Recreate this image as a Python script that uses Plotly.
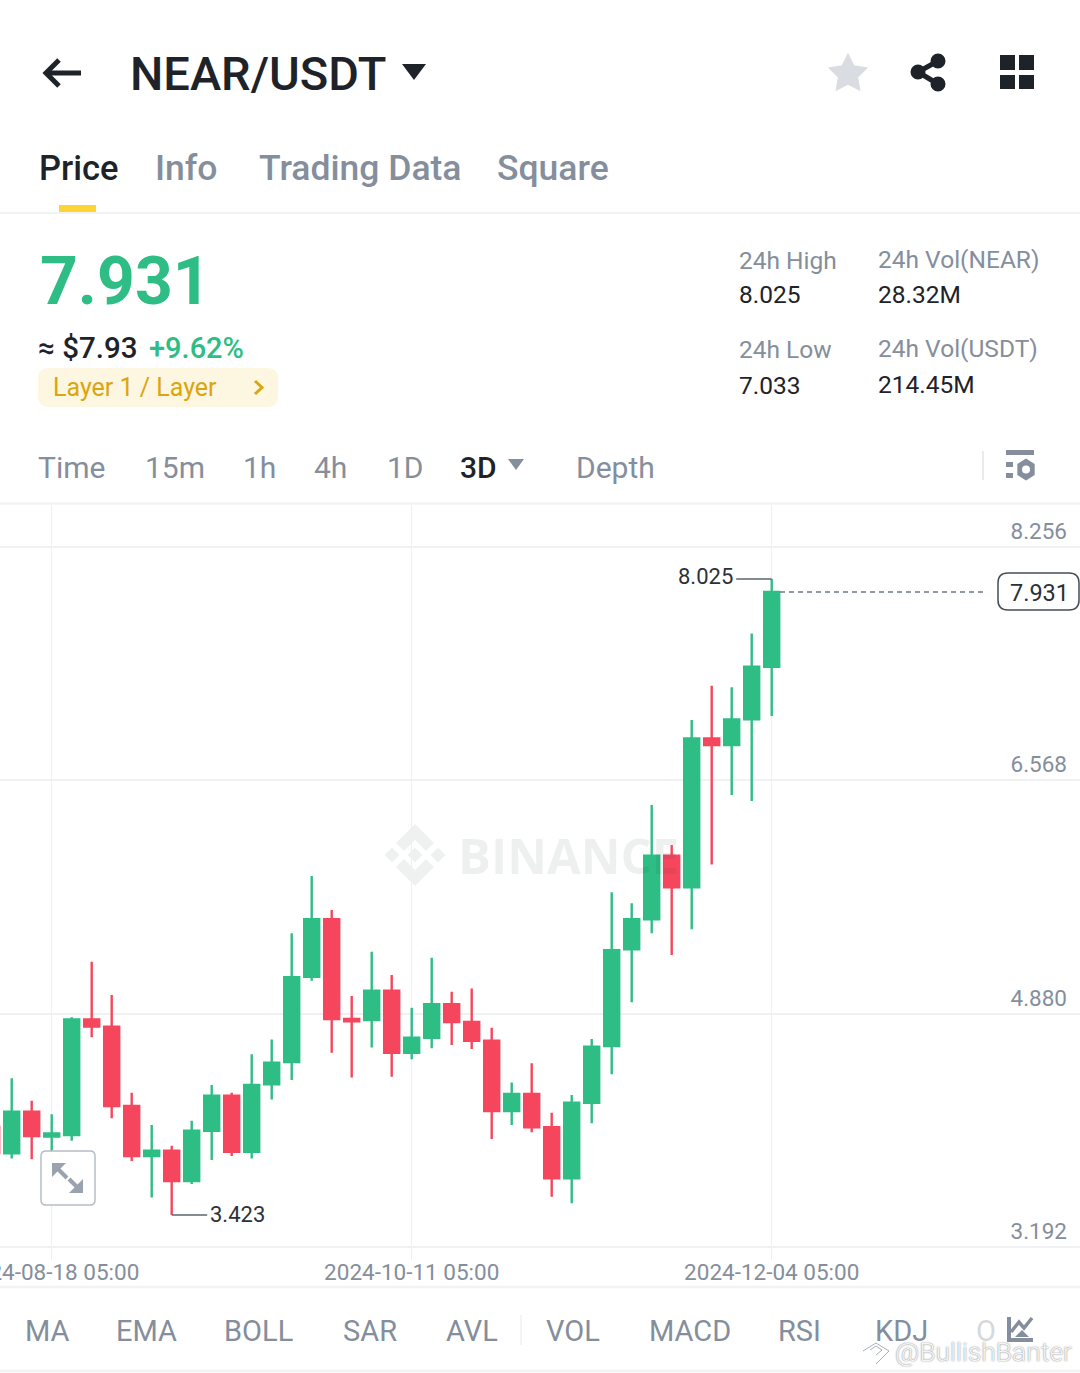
import math
import pandas as pd
import plotly.graph_objects as go

# ---------- chart data ----------
dates = pd.date_range("2024-08-09 05:00", periods=40, freq="3D")
opens = [4.060, 3.870, 4.171, 3.991, 4.002, 4.839, 4.786, 4.212, 3.850, 3.888,
         3.669, 4.033, 4.286, 3.881, 4.369, 4.530, 5.147, 5.563, 4.841, 4.834,
         5.046, 4.597, 4.706, 4.948, 4.820, 4.684, 4.176, 4.299, 4.058, 3.689,
         4.236, 4.646, 5.346, 5.563, 6.023, 5.794, 6.872, 6.823, 7.009, 7.390]
highs = [4.125, 4.412, 4.250, 4.152, 4.854, 5.256, 5.015, 4.308, 4.074, 3.925,
         4.106, 4.364, 4.308, 4.586, 4.694, 5.461, 5.876, 5.630, 5.008, 5.328,
         5.160, 4.923, 5.285, 5.039, 5.063, 4.778, 4.383, 4.521, 4.163, 4.291,
         4.697, 5.758, 5.678, 6.389, 6.100, 7.004, 7.252, 7.241, 7.631, 8.025]
lows = [3.836, 3.833, 3.826, 3.879, 3.961, 4.709, 4.123, 3.814, 3.551, 3.423,
        3.648, 3.821, 3.850, 3.833, 4.260, 4.400, 5.118, 4.597, 4.419, 4.636,
        4.424, 4.550, 4.629, 4.653, 4.624, 3.973, 4.074, 4.022, 3.556, 3.508,
        4.087, 4.441, 4.962, 5.461, 5.304, 5.490, 5.960, 6.462, 6.418, 7.033]
closes = [3.872, 4.171, 3.995, 4.013, 4.839, 4.786, 4.212, 3.850, 3.888, 3.669,
          4.033, 4.286, 3.881, 4.364, 4.525, 5.143, 5.563, 4.841, 4.825, 5.046,
          4.597, 4.706, 4.948, 4.820, 4.684, 4.176, 4.299, 4.058, 3.689, 4.236,
          4.641, 5.340, 5.563, 6.023, 5.794, 6.872, 6.823, 7.009, 7.390, 7.931]
price_ticks = [8.256, 6.568, 4.880, 3.192]
date_ticks = ["2024-08-18 05:00", "2024-10-11 05:00", "2024-12-04 05:00"]
last_price = 7.931
top_value, low_value = 8.025, 3.423
top_date, low_date = "2024-12-04 05:00", "2024-09-05 05:00"

W, H = 1080, 1373
FONT = "Roboto"
DARK = "#1e2329"
GRAY = "#848e9c"
GREEN = "#2ebd85"
RED = "#f6465d"
GRID = "#f0f1f2"

shapes, annots = [], []
def X(x): return x / W
def Y(y): return 1 - y / H

def text(x, y, s, size, color=GRAY, anchor="left", weight=400, family=FONT, **font_kw):
    if anchor == "left":
        x -= 1.5
    annots.append(dict(x=X(x), y=Y(y), xref="paper", yref="paper", text=s, showarrow=False,
                       xanchor=anchor, yanchor="middle", borderpad=0,
                       font=dict(size=size, color=color, family=family, weight=weight, **font_kw)))

def rect(x0, y0, x1, y1, color, layer="above"):
    shapes.append(dict(type="rect", xref="paper", yref="paper", x0=X(x0), x1=X(x1), y0=Y(y0), y1=Y(y1),
                       fillcolor=color, line=dict(width=0), layer=layer))

def line(x0, y0, x1, y1, color, width=2, dash="solid", layer="above"):
    shapes.append(dict(type="line", xref="paper", yref="paper", x0=X(x0), x1=X(x1), y0=Y(y0), y1=Y(y1),
                       line=dict(color=color, width=width, dash=dash), layer=layer))

def poly(pts, color, layer="above", stroke=None, width=0, close=True):
    d = "M " + " L ".join(f"{X(a):.5f},{Y(b):.5f}" for a, b in pts) + (" Z" if close else "")
    shapes.append(dict(type="path", xref="paper", yref="paper", path=d, fillcolor=color if close else None,
                       line=dict(color=stroke or color, width=width), layer=layer))

def circle(cx, cy, r, color):
    shapes.append(dict(type="circle", xref="paper", yref="paper", x0=X(cx - r), x1=X(cx + r),
                       y0=Y(cy - r), y1=Y(cy + r), fillcolor=color, line=dict(width=0)))

def round_rect(x0, y0, x1, y1, r, fill, stroke=None, width=0, layer="above"):
    p = lambda a, b: f"{X(a):.5f},{Y(b):.5f}"
    d = (f"M {p(x0 + r, y0)} L {p(x1 - r, y0)} Q {p(x1, y0)} {p(x1, y0 + r)} L {p(x1, y1 - r)} "
         f"Q {p(x1, y1)} {p(x1 - r, y1)} L {p(x0 + r, y1)} Q {p(x0, y1)} {p(x0, y1 - r)} "
         f"L {p(x0, y0 + r)} Q {p(x0, y0)} {p(x0 + r, y0)} Z")
    shapes.append(dict(type="path", xref="paper", yref="paper", path=d, fillcolor=fill,
                       line=dict(color=stroke or fill, width=width), layer=layer))

# ---------- header ----------
poly([(81, 73), (47, 73)], DARK, stroke=DARK, width=5, close=False)
poly([(59, 60), (46, 73), (59, 86)], DARK, stroke=DARK, width=5, close=False)
text(130, 74, "NEAR/USDT", 47, DARK, weight=500)
poly([(402, 64), (426, 64), (414, 80)], DARK)
star = []
for i in range(10):
    r = 19 if i % 2 == 0 else 9.5
    a = -math.pi / 2 + i * math.pi / 5
    star.append((848 + r * math.cos(a), 74 + r * math.sin(a)))
poly(star, "#d9dce1", stroke="#d9dce1", width=2)
line(938, 61, 918, 72, DARK, 5)
line(918, 72, 938, 84, DARK, 5)
circle(938, 61, 7.5, DARK); circle(938, 84, 7.5, DARK); circle(918, 72, 7.5, DARK)
rect(1000, 55, 1015, 70, DARK); rect(1019, 55, 1034, 70, DARK)
rect(1000, 75, 1015, 89, DARK); rect(1019, 75, 1034, 89, DARK)

text(39, 168, "Price", 34.5, DARK, weight=500)
text(155, 168, "Info", 35.5, weight=500)
text(259, 168, "Trading Data", 35.5, weight=500)
text(497, 168, "Square", 35.5, weight=500)
rect(59, 205, 96, 212, "#fcd535")
line(0, 213, W, 213, "#f2f3f4", 2)

# ---------- price block ----------
text(40, 282, "7.931", 66, GREEN, weight=700)
text(38, 348, "≈ $7.93", 29.5, DARK, weight=500)
text(149, 348, "+9.62%", 29, GREEN, weight=500)
round_rect(38, 368, 278, 407, 11, "#fdf6e0")
text(53, 388, "Layer 1 / Layer", 25, "#dba50f")
poly([(255, 381), (262, 387.5), (255, 394)], "#dba50f", stroke="#dba50f", width=3, close=False)
text(739, 260, "24h High", 24.5)
text(739, 295, "8.025", 24.5, DARK)
text(878, 259, "24h Vol(NEAR)", 24.5)
text(878, 294, "28.32M", 24.5, DARK)
text(739, 350, "24h Low", 24.5)
text(739, 385, "7.033", 24.5, DARK)
text(878, 349, "24h Vol(USDT)", 24.5)
text(878, 384, "214.45M", 24.5, DARK)

# ---------- interval bar ----------
for x0, s in [(38, "Time"), (145, "15m"), (243, "1h"), (314, "4h"), (387, "1D"), (576, "Depth")]:
    text(x0, 468, s, 30)
text(460, 468, "3D", 30, DARK, weight=500)
poly([(508, 459), (524, 459), (516, 470)], GRAY)
line(983, 451, 983, 480, "#e8eaed", 2)
rect(1006, 450, 1034, 455, GRAY)
rect(1006, 462, 1013, 467, GRAY); rect(1006, 473, 1013, 478, GRAY)
hexa = [(1026 + 10 * math.cos(math.pi / 2 + i * math.pi / 3), 469.5 + 11 * math.sin(math.pi / 2 + i * math.pi / 3)) for i in range(6)]
poly(hexa, GRAY)
circle(1026, 469.5, 4, "white")
line(0, 503.5, W, 503.5, "#f2f3f4", 2.5)

# ---------- watermark ----------
cx, cy = 415, 855
wm = "#eff1f1"
def diamond(x, y, r):
    return [(x, y - r), (x + r, y), (x, y + r), (x - r, y)]
poly(diamond(cx, cy, 7.5), wm, "below")
poly(diamond(cx - 23, cy, 7.5), wm, "below")
poly(diamond(cx + 23, cy, 7.5), wm, "below")
poly([(cx, cy - 31), (cx + 19, cy - 12), (cx + 11, cy - 4), (cx, cy - 15), (cx - 11, cy - 4), (cx - 19, cy - 12)], wm, "below")
poly([(cx, cy + 31), (cx + 19, cy + 12), (cx + 11, cy + 4), (cx, cy + 15), (cx - 11, cy + 4), (cx - 19, cy + 12)], wm, "below")
text(458, 855, "BINANCE", 49, "rgba(30,50,50,0.075)", weight=700, family="Open Sans")

# ---------- chart furniture ----------
line(780, 592, 986, 592, "#707a8a", 1.5, dash="5px,4px")
round_rect(998, 573, 1079, 610, 10, "white", stroke="#474d57", width=1.5)
text(1039, 593, f"{last_price:.3f}", 23.5, "#2b3139", anchor="center")

annots.append(dict(x=top_date, y=top_value, xref="x", yref="y", ax=-37, ay=0, axref="pixel", ayref="pixel",
                   text="", showarrow=True, arrowhead=0, arrowwidth=1.5, arrowcolor="#5e6673"))
text(734, 577, f"{top_value:.3f}", 22, "#2b3139", anchor="right")
annots.append(dict(x=low_date, y=low_value, xref="x", yref="y", ax=37, ay=0, axref="pixel", ayref="pixel",
                   text="", showarrow=True, arrowhead=0, arrowwidth=1.5, arrowcolor="#5e6673"))
text(210, 1214, f"{low_value:.3f}", 22, "#2b3139")

# expand button
round_rect(41, 1151, 95, 1205, 5, "rgba(255,255,255,0.96)", stroke="#b7bdc6", width=1.5)
poly([(52, 1163), (66, 1163), (52, 1177)], "#9aa2ad")
poly([(83, 1193), (69, 1193), (83, 1179)], "#9aa2ad")
line(58, 1169, 67, 1178, "#9aa2ad", 4)
line(69, 1179, 77, 1187, "#9aa2ad", 4)

# ---------- bottom bar ----------
line(0, 1287, W, 1287, "#f2f3f4", 2.5)
line(0, 1371, W, 1371, "#f2f3f4", 2.5)
for x0, s in [(25, "MA"), (116, "EMA"), (224, "BOLL"), (343, "SAR"), (446, "AVL"), (546, "VOL"),
              (649, "MACD"), (778, "RSI"), (875, "KDJ")]:
    text(x0, 1331, s, 29)
text(976, 1331, "O", 29, "#d5d9de")
line(521, 1315, 521, 1345, "#eef0f2", 1.5)
poly([(1009, 1317), (1009, 1340), (1033, 1340)], GRAY, stroke=GRAY, width=4, close=False)
poly([(1011, 1332), (1019, 1322), (1024, 1328), (1032, 1318)], GRAY, stroke=GRAY, width=3.5, close=False)
poly([(1015, 1337), (1029, 1337), (1022, 1330)], GRAY)

# user watermark
wm2 = "#a9aeb5"
poly([(863, 1351), (876, 1343), (889, 1351), (876, 1364)], "rgba(255,255,255,0)", stroke=wm2, width=1, close=False)
poly([(870, 1350), (876, 1346), (882, 1350), (876, 1355)], "rgba(255,255,255,0)", stroke=wm2, width=1, close=False)
text(895, 1351, "@BullishBanter", 26.5, "rgba(255,255,255,0.92)", weight=300, shadow="0px 0px 1.5px #555")

# ---------- figure ----------
fig = go.Figure(go.Candlestick(
    x=dates, open=opens, high=highs, low=lows, close=closes,
    increasing=dict(line=dict(color=GREEN, width=2.4), fillcolor=GREEN),
    decreasing=dict(line=dict(color=RED, width=2.4), fillcolor=RED),
    whiskerwidth=0, showlegend=False, hoverinfo="skip",
))
fig.update_layout(
    width=W, height=H, margin=dict(l=0, r=0, t=0, b=0, autoexpand=False), paper_bgcolor="white", plot_bgcolor="white",
    boxgap=0.25, boxgroupgap=0, shapes=shapes, annotations=annots, showlegend=False,
    font=dict(family=FONT),
    xaxis=dict(type="date", range=["2024-08-10 10:53", "2025-01-19 10:53"], rangeslider=dict(visible=False),
               tickmode="array", tickvals=date_ticks, tickformat="%Y-%m-%d %H:%M", automargin=False,
               tickfont=dict(size=22.5, color=GRAY, family=FONT), ticks="", showline=False,
               ticklabelstandoff=-4,
               showgrid=True, gridcolor="#eef0f2", gridwidth=1.2, zeroline=False, ticklabeloverflow="allow"),
    yaxis=dict(range=[3.098, 8.560], domain=[Y(1260), Y(505)], side="right", tickmode="array",
               tickvals=price_ticks, ticktext=[f"{v:.3f}" for v in price_ticks], automargin=False,
               ticklabelposition="inside top", ticklabelstandoff=10,
               tickfont=dict(size=22.5, color=GRAY, family=FONT), ticks="", showline=False,
               showgrid=True, gridcolor=GRID, gridwidth=2, zeroline=False),
)
fig.write_html("out.html", config=dict(displayModeBar=False),
               post_script="document.body.style.margin='0';document.body.style.overflow='hidden';")
